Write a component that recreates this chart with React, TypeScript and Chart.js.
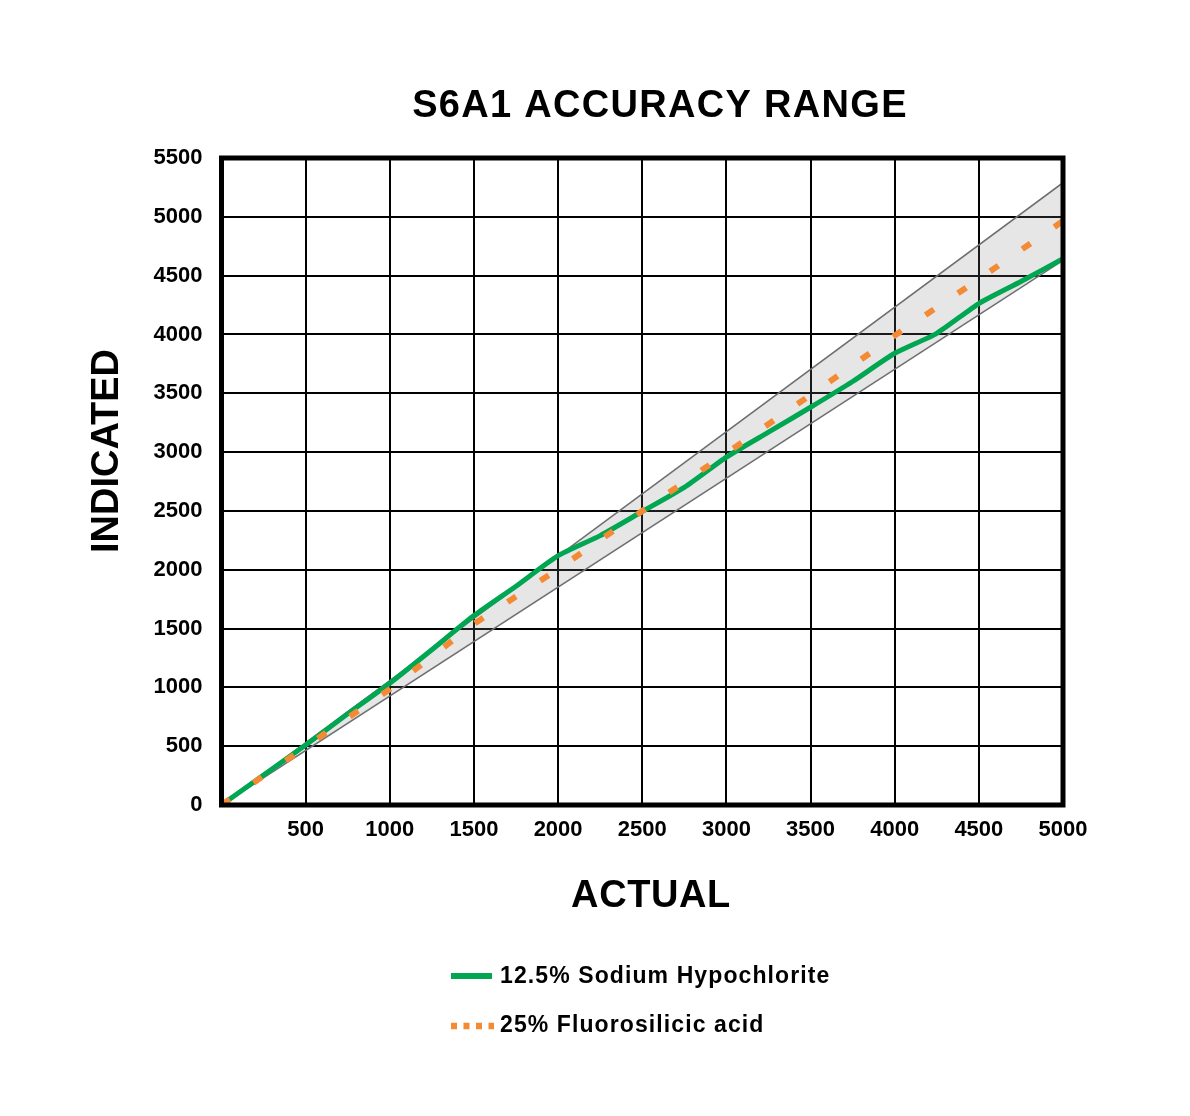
import React, { useEffect, useRef } from 'react';
import { Chart, registerables } from 'chart.js';

Chart.register(...registerables);

const titleText = 'S6A1 ACCURACY RANGE';
const xAxisTitle = 'ACTUAL';
const yAxisTitle = 'INDICATED';
const seriesNames = ['12.5% Sodium Hypochlorite', '25% Fluorosilicic acid'];

const greenActual = [0, 250, 500, 750, 1000, 1250, 1500, 1750, 2000, 2250, 2500, 2750, 3000, 3250, 3500, 3750, 4000, 4250, 4500, 4750, 5000];
const greenIndicated = [0, 255, 510, 775, 1035, 1320, 1610, 1860, 2120, 2290, 2495, 2700, 2957, 3169, 3381, 3600, 3840, 4010, 4263, 4450, 4644];

const orangeActual = [0, 500, 1000, 1500, 2000, 2500, 3000, 3500, 4000, 4500, 5000];
const orangeIndicated = [0, 495, 985, 1540, 2005, 2500, 2990, 3485, 3990, 4470, 4965];

const bandActual = [0, 5000];
const bandUpper = [0, 5290];
const bandLower = [0, 4630];

const xMin = 0, xMax = 5000, xStep = 500;
const yMin = 0, yMax = 5500, yStep = 500;

const FONT = "'Liberation Sans', Arial, sans-serif";
const GREEN = '#00a651';
const ORANGE = '#f58a34';

const toPoints = (xs: number[], ys: number[]) => xs.map((x, i) => ({ x, y: ys[i] }));

const decorPlugin = {
  id: 'decor',
  afterDraw(chart: any) {
    const ctx = chart.ctx as CanvasRenderingContext2D;
    const ca = chart.chartArea;
    ctx.save();
    // frame
    ctx.strokeStyle = '#000';
    ctx.lineWidth = 5;
    ctx.strokeRect(ca.left, ca.top, ca.right - ca.left, ca.bottom - ca.top);

    ctx.fillStyle = '#000';
    // title
    ctx.font = `bold 38px ${FONT}`;
    (ctx as any).letterSpacing = '1.3px';
    ctx.textAlign = 'center';
    ctx.textBaseline = 'alphabetic';
    ctx.fillText(titleText, 660, 117);

    // x axis title
    (ctx as any).letterSpacing = '0.6px';
    ctx.fillText(xAxisTitle, 651, 907);

    // y axis title
    (ctx as any).letterSpacing = '0px';
    ctx.save();
    ctx.translate(118, 451);
    ctx.rotate(-Math.PI / 2);
    ctx.fillText(yAxisTitle, 0, 0);
    ctx.restore();

    // legend
    ctx.textAlign = 'left';
    ctx.font = `bold 23px ${FONT}`;
    (ctx as any).letterSpacing = '1.1px';
    ctx.fillText(seriesNames[0], 500, 983);
    ctx.fillText(seriesNames[1], 500, 1032);

    ctx.lineCap = 'butt';
    ctx.strokeStyle = GREEN;
    ctx.lineWidth = 6;
    ctx.setLineDash([]);
    ctx.beginPath();
    ctx.moveTo(451, 976);
    ctx.lineTo(492, 976);
    ctx.stroke();

    ctx.strokeStyle = ORANGE;
    ctx.lineWidth = 6.5;
    ctx.setLineDash([6, 6.5]);
    ctx.beginPath();
    ctx.moveTo(451, 1026);
    ctx.lineTo(494, 1026);
    ctx.stroke();
    ctx.restore();
  },
};

export default function App() {
  const canvasRef = useRef<HTMLCanvasElement | null>(null);

  useEffect(() => {
    if (!canvasRef.current) return;
    const chart = new Chart(canvasRef.current, {
      type: 'line',
      data: {
        datasets: [
          {
            label: 'upper',
            data: toPoints(bandActual, bandUpper),
            borderColor: '#6d6e71',
            borderWidth: 1.5,
            pointRadius: 0,
            fill: '+1',
            backgroundColor: 'rgba(128,132,136,0.2)',
            order: 3,
          },
          {
            label: 'lower',
            data: toPoints(bandActual, bandLower),
            borderColor: '#6d6e71',
            borderWidth: 1.5,
            pointRadius: 0,
            fill: false,
            order: 3,
          },
          {
            label: seriesNames[0],
            data: toPoints(greenActual, greenIndicated),
            borderColor: GREEN,
            borderWidth: 5,
            pointRadius: 0,
            fill: false,
            tension: 0.2,
            order: 2,
          },
          {
            label: seriesNames[1],
            data: toPoints(orangeActual, orangeIndicated),
            borderColor: ORANGE,
            borderWidth: 6,
            borderDash: [10, 29],
            borderCapStyle: 'butt',
            pointRadius: 0,
            fill: false,
            order: 1,
          },
        ],
      },
      options: {
        responsive: false,
        animation: false,
        layout: { padding: { top: 158, right: 127, bottom: 251, left: 0 } },
        plugins: {
          legend: { display: false },
          title: { display: false },
          tooltip: { enabled: false },
        },
        scales: {
          x: {
            type: 'linear',
            min: xMin,
            max: xMax,
            afterFit: (s: any) => { s.height = 60; },
            border: { display: false },
            grid: { color: '#000', lineWidth: 2, drawTicks: false },
            ticks: {
              stepSize: xStep,
              autoSkip: false,
              maxRotation: 0,
              padding: 12,
              color: '#000',
              font: { family: FONT, size: 22, weight: 'bold' },
              callback: (v: any) => (v === 0 ? '' : String(v)),
            },
          },
          y: {
            type: 'linear',
            min: yMin,
            max: yMax,
            afterFit: (s: any) => { s.width = 221.5; },
            border: { display: false },
            grid: { color: '#000', lineWidth: 2, drawTicks: false },
            ticks: {
              stepSize: yStep,
              autoSkip: false,
              padding: 19,
              color: '#000',
              font: { family: FONT, size: 22, weight: 'bold' },
              callback: (v: any) => String(v),
            },
          },
        },
      },
      plugins: [decorPlugin],
    } as any);
    return () => chart.destroy();
  }, []);

  return (
    <div style={{ position: 'fixed', left: 0, top: 0, width: 1190, height: 1116, background: '#fff' }}>
      <canvas ref={canvasRef} width={1190} height={1116} style={{ width: 1190, height: 1116 }} />
    </div>
  );
}
